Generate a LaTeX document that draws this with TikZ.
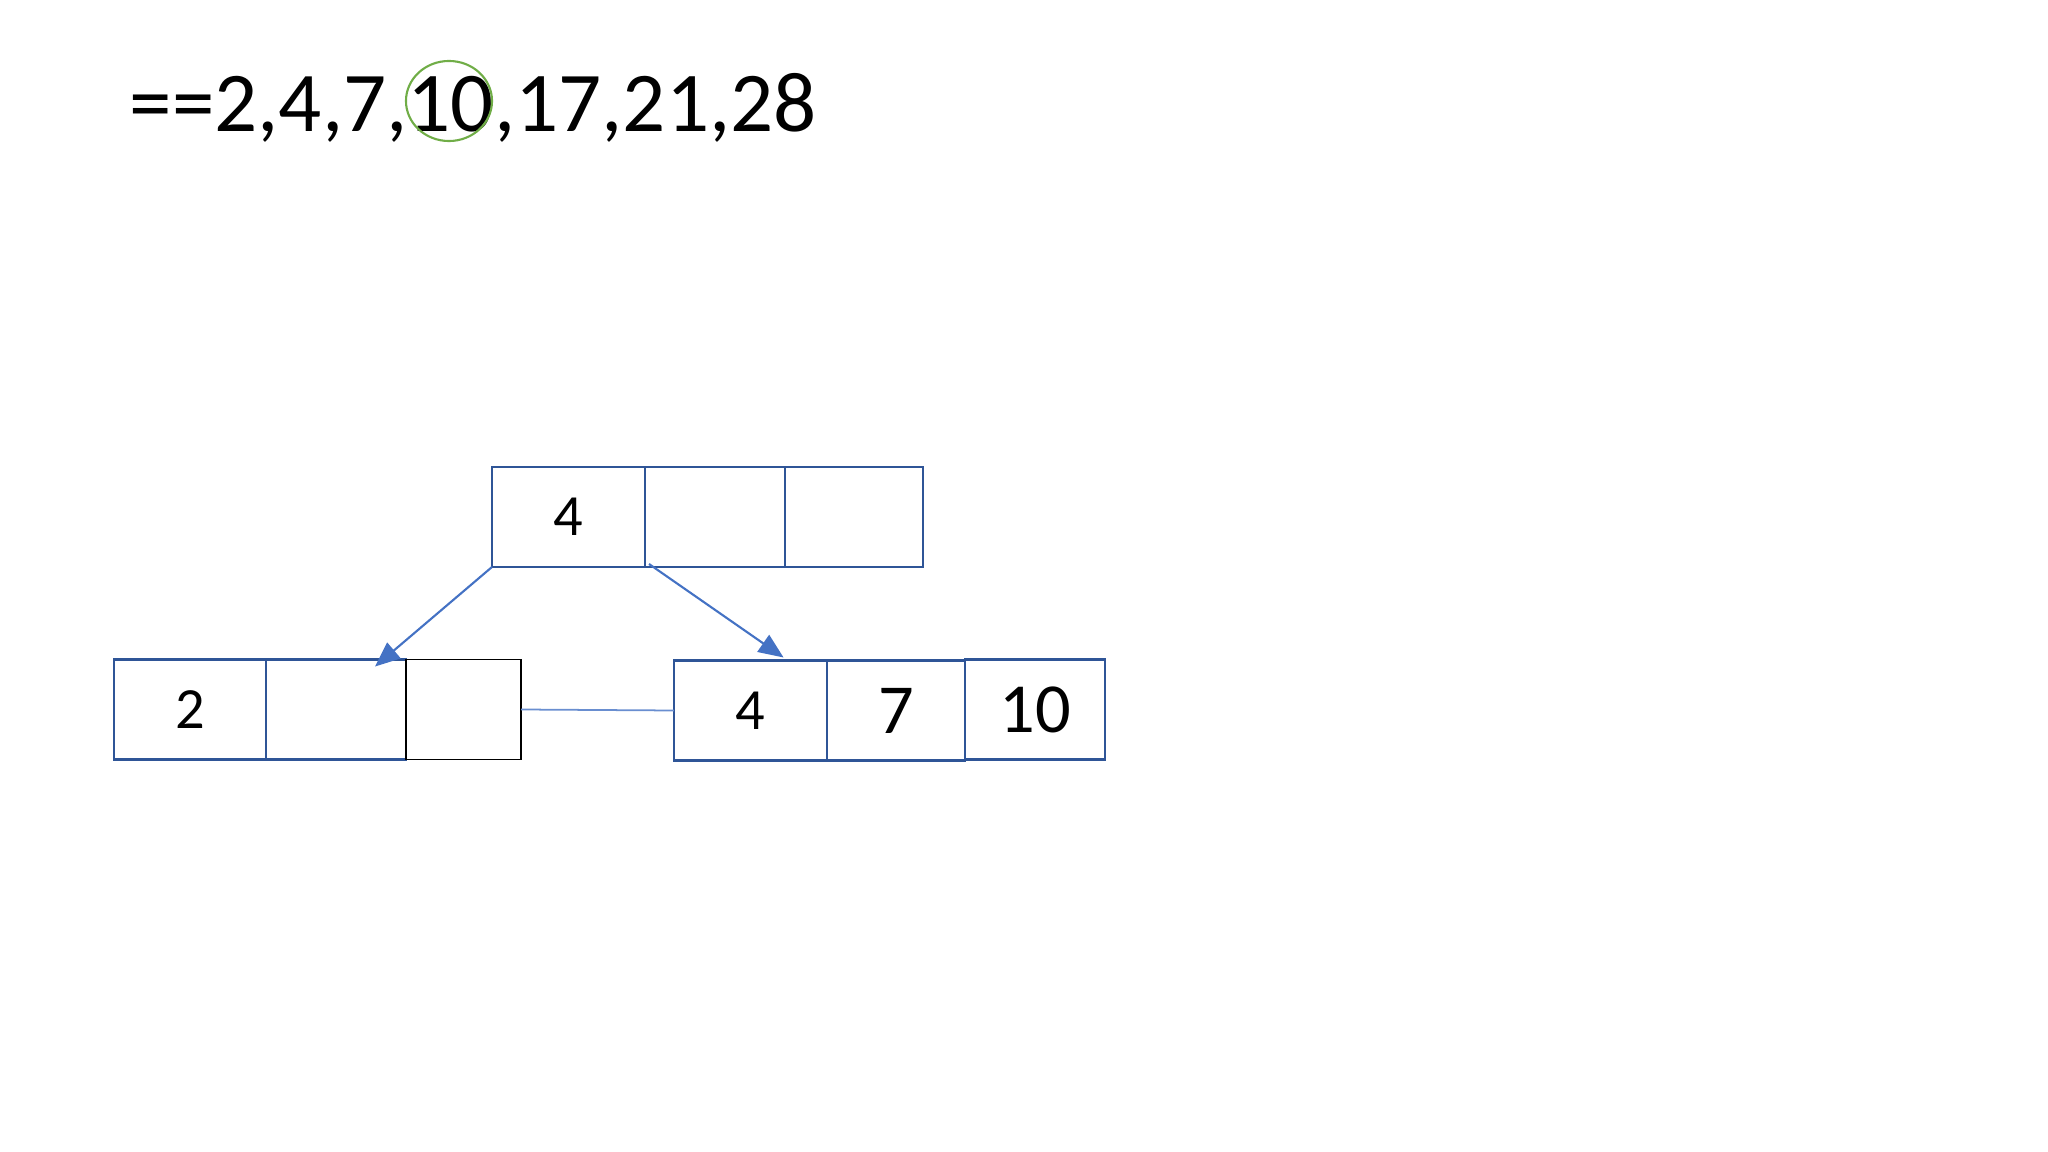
\documentclass[tikz,border=0pt]{standalone}
\usepackage{fontspec}
\setmainfont{Carlito}
\usetikzlibrary{shapes.geometric, arrows, calc, positioning}
\definecolor{boxblue}{RGB}{47,85,151}
\definecolor{arrowblue}{RGB}{68,114,196}
\definecolor{markgreen}{RGB}{112,173,71}
\tikzstyle{cell} = [rectangle, line width=0.7pt, minimum height=1cm, inner sep=0pt, outer sep=0pt, text centered, draw=boxblue, font=\fontsize{16.6}{18}\selectfont]
\tikzstyle{bigcell} = [cell, font=\fontsize{20}{22}\selectfont]
\tikzstyle{arrow} = [line width=0.6pt, draw=arrowblue, fill=arrowblue, -triangle 45]
\tikzstyle{link} = [line width=0.5pt, draw=arrowblue!80]

\begin{document}
\begin{tikzpicture}[x=0.01cm, y=-0.01cm, node distance = 0pt]
	\useasboundingbox (0,0) rectangle (2048,1152);
	\node (Keys) [anchor=base west, inner sep=0pt, font=\fontsize{24.2}{29}\selectfont] at (129,132) {==2,4,7,10,17,21,28};
	\node (Mark) [ellipse, draw=markgreen, line width=0.6pt, minimum width=0.86cm, minimum height=0.80cm] at (449,101) {};
	% root
	\node (Root1) [cell, minimum width=1.53cm] at (568.5,517) {4};
	\node (Root2) [cell, minimum width=1.40cm, right = of Root1] {};
	\node (Root3) [cell, minimum width=1.38cm, right = of Root2] {};
	% leaves
	\node (LeftA) [cell, minimum width=1.52cm] at (190,709.5) {2};
	\node (LeftB) [cell, minimum width=1.40cm, right = of LeftA] {};
	\node (LeftC) [cell, minimum width=1.15cm, draw=black, line width=0.55pt, right = of LeftB] {};
	\node (RightA) [cell, minimum width=1.53cm] at (750.5,710.5) {4};
	\node (RightB) [bigcell, minimum width=1.38cm, right = of RightA] {7};
	\node (RightC) [bigcell, minimum width=1.40cm, right = of RightB, yshift=0.01cm] {10};
	\draw [arrow] (Root1.south west) -- ([xshift=0.39cm, yshift=-0.07cm]LeftB.north);
	\draw [arrow] ([xshift=0.04cm, yshift=0.03cm]Root2.south west) -- ([xshift=0.33cm, yshift=0.03cm]RightA.north);
	\draw [link] (LeftC.east) -- (RightA.west);
\end{tikzpicture}
\end{document}
